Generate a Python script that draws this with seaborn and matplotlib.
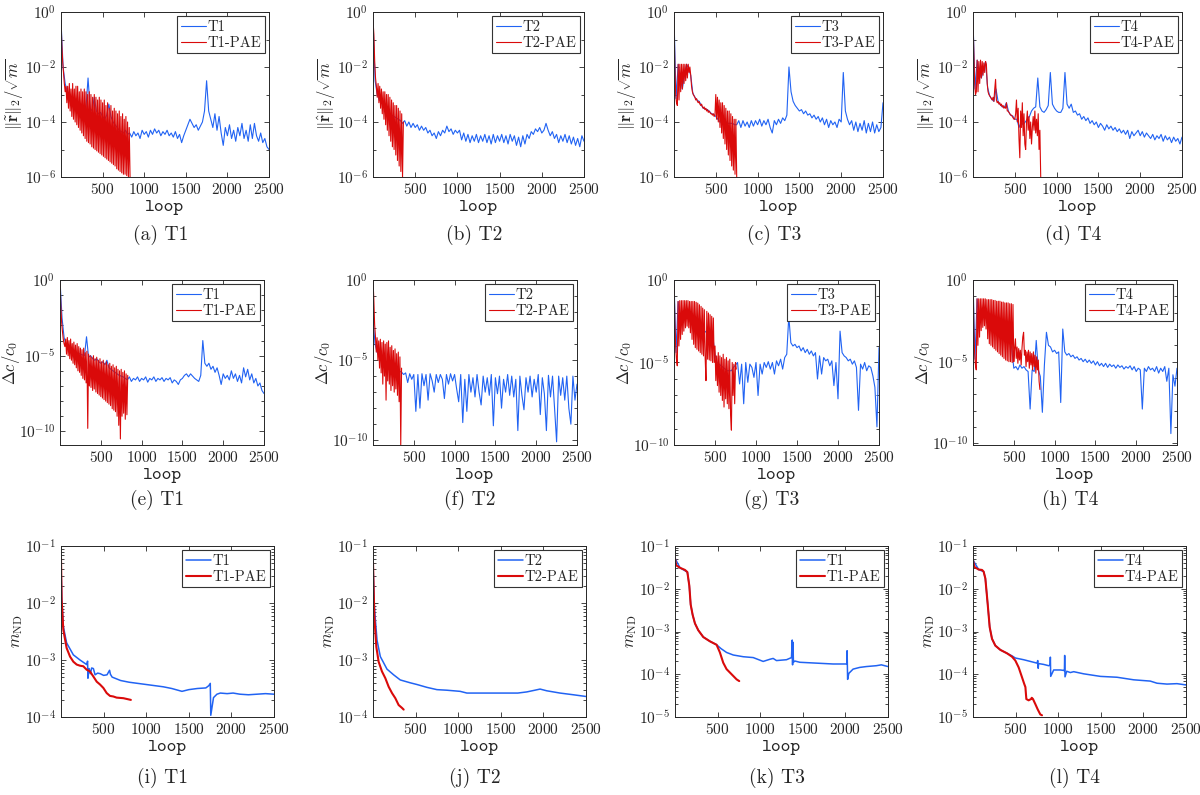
import numpy as np
import matplotlib
matplotlib.use("Agg")
import matplotlib.pyplot as plt
from matplotlib.ticker import FixedLocator, FuncFormatter, NullFormatter, LogLocator
import seaborn as sns

# ---------------------------------------------------------------
# Data (log10 of the plotted quantity).
# Rows 1-2: values at evenly spaced loops from 0 to the run's end.
# Row 3: explicit loop / value pairs.
# ---------------------------------------------------------------
LOOP_END = 2500

# (a) T1 residual
blue_a = [-0.3, -2.0, -2.6, -2.9, -3.0, -3.1, -3.2, -3.25, -3.3, -3.35,
          -3.4, -3.45, -3.5, -2.4, -3.5, -3.6, -3.1, -3.6, -3.7, -3.65,
          -3.8, -3.9, -3.75, -3.35, -3.8, -4.0, -4.1, -4.2, -4.3, -4.35,
          -4.4, -4.3, -4.45, -4.4, -4.55, -4.35, -4.5, -4.4, -4.6, -4.3,
          -4.45, -4.35, -4.55, -4.3, -4.45, -4.25, -4.4, -4.3, -4.5, -4.35,
          -4.45, -4.3, -4.5, -4.4, -4.55, -4.35, -4.6, -4.45, -4.75, -4.5,
          -4.3, -4.1, -3.9, -4.05, -4.2, -4.1, -4.3, -4.15, -4.0, -3.6,
          -2.5, -3.6, -3.9, -4.2, -3.7, -4.3, -3.8, -4.4, -4.85, -4.2,
          -4.5, -4.1, -4.6, -4.3, -4.7, -4.2, -4.5, -4.05, -4.6, -4.3,
          -4.7, -4.1, -4.6, -4.05, -4.5, -4.7, -4.4, -4.75, -4.6, -4.9,
          -5.0]
red_a_end = 830
red_a = [-0.3, -1.2, -1.8, -2.2, -2.6, -2.9, -2.7, -3.3, -2.7, -3.5,
         -2.6, -3.6, -2.8, -3.8, -2.6, -3.9, -2.8, -4.0, -2.7, -4.1,
         -2.7, -4.2, -2.9, -4.3, -2.8, -4.4, -2.9, -4.5, -2.8, -4.6,
         -2.9, -4.7, -3.0, -4.75, -2.9, -4.8, -3.0, -4.9, -3.1, -4.95,
         -3.0, -5.0, -3.1, -5.05, -3.2, -5.1, -3.1, -5.15, -3.2, -5.2,
         -3.3, -5.25, -3.2, -5.3, -3.4, -5.35, -3.3, -5.4, -3.5, -5.45,
         -3.4, -5.5, -3.6, -5.55, -3.5, -5.6, -3.6, -5.7, -3.7, -5.75,
         -3.6, -5.8, -3.8, -5.85, -3.7, -5.9, -3.9, -5.9, -3.8, -5.95,
         -4.0, -6.0, -4.2, -6.0]

# (b) T2 residual
blue_b = [-0.3, -2.5, -3.0, -3.2, -3.3, -3.4, -3.5, -3.6, -3.7, -3.75,
          -3.8, -3.85, -3.9, -3.95, -4.05, -3.95, -4.15, -4.0, -4.2, -4.05,
          -4.2, -4.1, -4.3, -4.15, -4.3, -4.2, -4.4, -4.3, -4.5, -4.4,
          -4.6, -4.35, -4.5, -4.3, -4.4, -4.15, -4.35, -4.25, -4.45, -4.3,
          -4.4, -4.3, -4.65, -4.4, -4.7, -4.45, -4.75, -4.5, -4.7, -4.45,
          -4.75, -4.5, -4.7, -4.45, -4.75, -4.5, -4.8, -4.45, -4.75, -4.5,
          -4.7, -4.45, -4.75, -4.5, -4.8, -4.45, -4.7, -4.5, -4.85, -4.55,
          -4.9, -4.5, -4.8, -4.45, -4.6, -4.35, -4.45, -4.25, -4.35, -4.2,
          -4.4, -4.3, -4.05, -4.3, -4.5, -4.35, -4.6, -4.45, -4.75, -4.5,
          -4.7, -4.45, -4.75, -4.5, -4.8, -4.55, -4.85, -4.6, -4.9, -4.5,
          -4.7]
red_b_end = 360
red_b = [-0.3, -0.8, -1.8, -2.4, -2.7, -3.1, -2.6, -3.3, -2.7, -3.5,
         -2.8, -3.7, -2.9, -3.9, -2.9, -4.1, -3.0, -4.3, -3.0, -4.5,
         -3.1, -4.7, -3.2, -4.9, -3.3, -5.0, -3.4, -5.2, -3.4, -5.4,
         -3.5, -5.6, -3.6, -5.8, -3.7, -6.0, -4.0]

# (c) T3 residual
blue_c = [-0.2, -3.15, -1.9, -2.4, -2.8, -2.3, -1.9, -2.05, -2.3, -2.95,
          -3.1, -3.2, -3.25, -3.38, -3.5, -3.52, -3.55, -3.62, -3.7, -3.72,
          -3.8, -3.9, -4.0, -4.0, -4.0, -4.0, -4.05, -4.05, -4.05, -4.1,
          -4.1, -3.95, -4.2, -3.95, -4.15, -4.0, -4.2, -3.95, -4.15, -3.95,
          -4.1, -3.9, -4.15, -3.95, -4.1, -3.9, -4.2, -4.4, -3.95, -4.1,
          -3.9, -4.05, -3.85, -3.95, -3.75, -2.0, -2.9, -3.25, -3.4, -3.5,
          -3.6, -3.55, -3.7, -3.6, -3.75, -3.7, -3.85, -3.75, -3.9, -3.8,
          -4.0, -3.85, -4.1, -3.9, -4.2, -3.95, -4.1, -4.0, -4.2, -3.9,
          -4.0, -2.2, -3.6, -3.9, -4.1, -3.95, -4.3, -4.0, -4.35, -4.05,
          -4.3, -3.95, -4.4, -4.05, -4.35, -4.0, -4.4, -4.1, -4.35, -4.2,
          -3.3]
red_c_end = 750
red_c = [-0.2, -2.0, -3.0, -3.3, -3.4, -1.9, -3.2, -1.9, -2.9, -1.9,
         -2.8, -1.9, -2.6, -1.9, -2.5, -1.9, -2.4, -1.9, -2.2, -2.0,
         -2.3, -2.7, -2.9, -3.0, -3.05, -3.1, -3.2, -3.15, -3.25, -3.3,
         -3.25, -3.35, -3.4, -3.35, -3.45, -3.5, -3.45, -3.55, -3.5, -3.6,
         -3.55, -3.65, -3.6, -3.65, -3.7, -3.7, -3.75, -3.7, -3.8, -3.75,
         -3.0, -3.9, -3.1, -4.0, -3.2, -4.2, -3.3, -4.4, -3.3, -4.6,
         -3.4, -4.8, -3.5, -5.0, -3.6, -5.2, -3.6, -5.4, -3.7, -5.6,
         -3.8, -5.75, -3.9, -5.9, -3.9, -6.0]

# (d) T4 residual
blue_d = [-0.3, -2.8, -1.75, -2.2, -2.4, -2.1, -1.8, -2.75, -3.05, -3.17,
          -3.25, -2.8, -3.25, -3.37, -3.45, -3.47, -3.3, -3.62, -3.75, -3.78,
          -3.9, -3.9, -4.2, -4.0, -4.1, -4.0, -3.9, -3.8, -3.6, -3.5,
          -3.45, -2.4, -3.45, -3.6, -3.65, -3.55, -3.4, -2.2, -3.35, -3.5,
          -3.6, -3.65, -3.65, -3.5, -2.2, -3.35, -3.5, -3.35, -3.65, -3.6,
          -3.75, -3.7, -3.9, -3.8, -3.95, -3.85, -4.05, -3.95, -4.1, -4.0,
          -4.2, -4.05, -4.15, -4.3, -4.1, -4.25, -4.15, -4.3, -4.2, -4.35,
          -4.25, -4.4, -4.3, -4.45, -4.3, -4.6, -4.35, -4.5, -4.4, -4.3,
          -4.5, -4.35, -4.55, -4.4, -4.5, -4.6, -4.45, -4.65, -4.5, -4.6,
          -4.45, -4.7, -4.5, -4.65, -4.55, -4.75, -4.55, -4.7, -4.6, -4.8,
          -4.55]
red_d_end = 810
red_d = [-0.3, -1.5, -2.6, -3.0, -2.9, -1.75, -2.9, -1.8, -2.6, -1.75,
         -2.4, -1.8, -2.3, -1.85, -2.2, -1.8, -1.9, -2.6, -2.9, -3.0,
         -3.05, -3.1, -3.15, -3.2, -3.1, -3.25, -2.8, -2.45, -3.2, -3.3,
         -3.25, -3.35, -3.3, -3.4, -3.35, -3.45, -3.4, -3.5, -3.45, -3.5,
         -3.3, -3.6, -3.6, -3.65, -3.7, -3.75, -3.75, -3.8, -3.85, -3.9,
         -3.9, -3.7, -3.2, -4.0, -3.5, -4.6, -5.3, -3.6, -4.2, -3.3,
         -4.5, -3.7, -4.8, -5.0, -4.0, -3.6, -4.3, -3.8, -4.6, -4.0,
         -4.8, -4.2, -3.8, -4.3, -3.6, -4.4, -3.9, -4.5, -3.7, -5.0,
         -4.3, -6.0]

# (e) T1 cost change
blue_e = [0.0, -2.5, -3.8, -4.3, -4.5, -4.6, -4.7, -4.75, -4.8, -4.85,
          -4.9, -4.95, -5.0, -3.75, -5.1, -5.0, -5.2, -5.3, -5.2, -5.4,
          -5.5, -5.4, -5.6, -5.3, -5.8, -5.9, -6.0, -6.1, -6.2, -6.3,
          -6.35, -6.4, -6.5, -6.6, -6.4, -6.7, -6.5, -6.6, -6.4, -6.7,
          -6.5, -6.6, -6.4, -6.75, -6.5, -6.6, -6.4, -6.7, -6.5, -6.6,
          -6.45, -6.7, -6.5, -6.6, -6.45, -6.8, -6.6, -6.7, -6.9, -6.6,
          -6.5, -6.3, -6.2, -6.4, -6.2, -6.35, -6.5, -6.6, -6.7, -6.3,
          -4.0, -5.5, -5.7, -5.5, -5.9, -5.7, -6.1, -5.8, -6.3, -6.9,
          -6.2, -6.5, -6.3, -6.6, -6.0, -6.5, -6.2, -6.7, -6.3, -6.8,
          -5.8, -6.4, -5.9, -6.6, -6.2, -6.8, -6.5, -7.0, -6.8, -7.3,
          -7.5]
red_e_end = 830
red_e = [0.0, -1.7, -2.8, -3.4, -3.9, -4.2, -4.4, -3.9, -4.9, -3.8,
         -5.0, -4.0, -5.2, -3.9, -5.3, -4.2, -5.5, -4.1, -5.6, -4.3,
         -5.8, -4.2, -6.0, -4.4, -6.1, -4.5, -6.3, -4.6, -6.5, -4.5,
         -6.6, -4.8, -6.8, -4.7, -9.8, -4.9, -7.0, -5.0, -7.1, -5.1,
         -7.3, -5.0, -7.2, -5.2, -7.4, -5.1, -7.5, -5.3, -7.6, -5.2,
         -7.7, -5.4, -7.8, -5.3, -7.9, -5.5, -8.0, -5.4, -8.1, -5.6,
         -8.2, -5.5, -8.3, -5.7, -8.5, -5.6, -8.6, -5.8, -8.7, -5.7,
         -9.0, -5.9, -9.6, -6.0, -10.5, -5.9, -9.0, -6.1, -8.8, -6.0,
         -9.2, -6.2, -8.9, -6.3]

# (f) T2 cost change
blue_f = [-2.4, -4.0, -4.5, -4.8, -5.0, -5.1, -5.2, -5.3, -5.35, -5.4,
          -5.5, -5.55, -5.6, -5.7, -5.75, -5.9, -5.8, -6.4, -5.85, -6.2,
          -5.9, -8.2, -5.9, -8.0, -5.85, -6.6, -5.9, -7.5, -5.85, -6.3,
          -7.0, -5.9, -6.4, -5.9, -6.2, -7.4, -5.9, -6.5, -5.85, -6.3,
          -5.9, -6.8, -7.6, -5.9, -8.9, -6.2, -8.2, -5.9, -7.0, -6.1,
          -7.3, -5.9, -7.0, -7.8, -6.0, -7.0, -6.1, -7.2, -5.9, -9.1,
          -6.1, -7.1, -6.0, -8.0, -6.2, -7.0, -5.9, -7.2, -6.0, -7.3,
          -6.2, -9.4, -6.0, -7.2, -8.1, -6.1, -7.0, -6.0, -7.3, -6.2,
          -7.0, -5.9, -8.4, -6.1, -7.1, -9.4, -5.95, -7.3, -6.0, -8.0,
          -10.1, -6.0, -7.2, -6.1, -7.5, -6.0, -8.0, -9.0, -6.0, -7.5,
          -6.5]
red_f_end = 350
red_f = [0.0, -1.2, -2.8, -3.5, -4.5, -3.6, -5.0, -3.8, -5.5, -3.7,
         -5.8, -3.9, -6.5, -3.8, -6.0, -4.0, -7.5, -3.9, -6.3, -3.8,
         -6.5, -4.2, -6.9, -4.1, -6.6, -4.4, -7.0, -4.3, -6.8, -4.6,
         -7.2, -4.5, -7.6, -4.8, -10.3, -5.5]

# (g) T3 cost change
blue_g = [0.0, -4.4, -1.3, -2.4, -2.4, -2.3, -2.2, -2.2, -2.4, -2.5,
          -2.6, -2.7, -2.8, -2.9, -3.0, -3.1, -3.2, -3.3, -3.4, -3.5,
          -4.5, -5.0, -5.1, -5.2, -5.3, -5.4, -5.5, -5.5, -5.5, -5.3,
          -5.15, -5.0, -6.3, -5.1, -7.5, -5.0, -6.2, -5.1, -5.3, -5.9,
          -5.0, -7.0, -5.1, -5.7, -5.0, -5.3, -4.95, -5.4, -5.0, -5.7,
          -4.9, -5.2, -4.8, -5.4, -4.7, -4.5, -2.2, -3.8, -4.0, -3.9,
          -4.1, -4.0, -4.3, -4.1, -4.4, -4.2, -4.5, -4.3, -4.6, -4.4,
          -6.0, -4.6, -5.7, -4.7, -4.9, -4.8, -5.2, -4.9, -6.4, -5.0,
          -7.2, -3.1, -4.4, -4.6, -4.7, -4.9, -4.8, -5.1, -4.9, -5.3,
          -7.9, -5.1, -5.4, -5.0, -5.5, -5.2, -5.3, -5.8, -6.5, -8.9,
          -4.1]
red_g_end = 760
red_g = [0.0, -2.5, -4.0, -4.8, -5.2, -1.3, -4.0, -1.25, -3.6, -1.25,
         -3.3, -1.25, -3.1, -1.25, -2.9, -1.25, -2.8, -1.25, -2.9, -1.3,
         -3.2, -1.3, -3.6, -1.3, -3.9, -1.3, -4.1, -1.35, -4.2, -1.4,
         -4.3, -1.5, -4.4, -1.6, -4.5, -1.7, -4.6, -1.8, -4.7, -6.1,
         -1.9, -4.8, -2.0, -4.85, -2.1, -4.9, -2.2, -5.0, -2.3, -5.0,
         -4.0, -6.1, -4.6, -6.4, -4.4, -6.8, -4.6, -7.0, -4.7, -7.3,
         -4.5, -7.7, -4.8, -7.2, -4.7, -7.5, -4.9, -7.8, -4.8, -8.2,
         -9.1, -5.0, -7.0, -5.1, -7.5, -5.0, -5.4]

# (h) T4 cost change
blue_h = [0.0, -4.85, -1.15, -2.3, -2.2, -2.1, -2.1, -2.3, -2.5, -2.6,
          -2.7, -2.8, -2.9, -3.0, -3.1, -3.2, -3.3, -3.4, -3.6, -4.2,
          -5.4, -5.3, -5.5, -5.2, -5.4, -5.3, -5.5, -5.6, -7.9, -5.5,
          -5.6, -3.7, -5.5, -5.9, -8.1, -5.2, -3.2, -4.0, -4.1, -4.4,
          -4.3, -4.5, -4.4, -7.5, -3.0, -4.4, -4.6, -4.5, -4.7, -4.6,
          -4.8, -4.7, -4.9, -4.8, -5.0, -4.85, -5.05, -4.9, -5.1, -4.95,
          -5.2, -5.0, -5.25, -5.1, -5.3, -5.1, -5.35, -5.15, -5.3, -5.2,
          -5.4, -5.2, -5.35, -5.25, -5.45, -5.3, -5.4, -5.25, -5.5, -5.3,
          -5.6, -5.4, -5.5, -7.9, -5.4, -5.6, -5.3, -5.5, -5.4, -5.6,
          -5.3, -5.7, -5.4, -5.6, -5.3, -6.2, -5.4, -9.4, -5.8, -6.5,
          -5.4]
red_h_end = 820
red_h = [0.0, -3.0, -4.5, -5.2, -5.5, -1.15, -4.0, -1.15, -3.5, -1.15,
         -3.1, -1.15, -2.9, -1.15, -2.8, -1.15, -3.0, -1.2, -3.6, -1.2,
         -3.9, -1.2, -4.0, -1.2, -4.1, -1.25, -4.2, -1.25, -4.3, -1.3,
         -4.4, -1.3, -4.5, -1.3, -4.6, -1.35, -4.7, -1.35, -4.8, -1.4,
         -4.9, -1.4, -4.95, -1.4, -5.0, -1.45, -5.0, -1.45, -5.05, -1.5,
         -5.0, -4.2, -3.6, -4.8, -4.1, -5.1, -4.2, -4.9, -4.3, -5.2,
         -4.2, -3.5, -3.2, -4.6, -4.3, -5.3, -4.4, -5.0, -4.3, -5.4,
         -4.4, -5.2, -4.5, -5.5, -4.4, -5.3, -4.6, -5.7, -4.7, -5.5,
         -4.9, -6.2, -6.7]

# (i) T1 m_ND
blue_i_loop = [0, 8, 27, 66, 145, 223, 301, 312, 316, 330,
               345, 360, 380, 400, 430, 460, 500, 540, 570, 580,
               600, 650, 700, 800, 900, 1000, 1100, 1200, 1300, 1420,
               1500, 1600, 1700, 1735, 1752, 1758, 1790, 1830, 1870, 1950,
               2020, 2100, 2200, 2300, 2400, 2500]
blue_i = [-1.27, -1.89, -2.41, -2.7, -2.91, -3.0, -3.08, -3.02, -3.32, -3.15,
          -3.24, -3.14, -3.15, -3.26, -3.23, -3.24, -3.27, -3.26, -3.18, -3.25,
          -3.3, -3.33, -3.36, -3.39, -3.41, -3.43, -3.45, -3.47, -3.5, -3.55,
          -3.52, -3.5, -3.49, -3.45, -3.41, -3.97, -3.66, -3.6, -3.58, -3.59,
          -3.58, -3.6, -3.61, -3.6, -3.59, -3.6]
red_i_loop = [0, 8, 27, 66, 106, 145, 184, 223, 262, 301,
              340, 380, 419, 458, 497, 536, 575, 614, 653, 732, 820]
red_i = [-1.22, -1.95, -2.47, -2.79, -2.94, -3.03, -3.08, -3.1, -3.11, -3.17,
         -3.2, -3.29, -3.38, -3.43, -3.49, -3.58, -3.63, -3.64, -3.66, -3.67, -3.7]

# (j) T2 m_ND
blue_j_loop = [0, 16, 47, 86, 164, 242, 320, 437, 516, 633,
               750, 867, 1023, 1102, 1300, 1500, 1700, 1805, 1900, 1961,
               2039, 2195, 2352, 2500]
blue_j = [-1.29, -2.07, -2.65, -2.94, -3.16, -3.26, -3.35, -3.4, -3.43, -3.48,
          -3.52, -3.53, -3.55, -3.58, -3.58, -3.58, -3.58, -3.56, -3.53, -3.51,
          -3.54, -3.58, -3.61, -3.64]
red_j_loop = [0, 16, 39, 66, 105, 145, 184, 223, 262, 301, 340, 360]
red_j = [-1.29, -2.25, -2.77, -3.03, -3.2, -3.32, -3.47, -3.58, -3.67, -3.79, -3.84, -3.87]

# (k) T3 m_ND
blue_k_loop = [0, 59, 145, 168, 184, 207, 234, 273, 332, 410,
               488, 540, 605, 684, 801, 918, 1035, 1113, 1152, 1191,
               1309, 1367, 1376, 1380, 1384, 1390, 1406, 1465, 1660, 1855,
               1992, 2016, 2020, 2026, 2040, 2090, 2168, 2246, 2363, 2422,
               2500]
blue_k = [-1.29, -1.51, -1.61, -1.93, -2.37, -2.61, -2.81, -2.97, -3.13, -3.23,
          -3.31, -3.4, -3.49, -3.55, -3.59, -3.61, -3.7, -3.65, -3.63, -3.68,
          -3.66, -3.61, -3.2, -3.78, -3.25, -3.72, -3.69, -3.72, -3.74, -3.76,
          -3.76, -3.76, -3.45, -4.12, -3.98, -3.88, -3.84, -3.82, -3.8, -3.78,
          -3.82]
red_k_loop = [0, 12, 59, 117, 145, 168, 184, 207, 234, 273,
              332, 410, 488, 527, 566, 605, 664, 723, 754]
red_k = [-1.29, -1.45, -1.51, -1.56, -1.61, -1.93, -2.37, -2.61, -2.81, -2.97,
         -3.13, -3.23, -3.31, -3.49, -3.73, -3.88, -4.0, -4.12, -4.16]

# (l) T4 m_ND
blue_l_loop = [0, 66, 125, 145, 172, 196, 223, 262, 321, 399,
               458, 497, 594, 673, 751, 760, 765, 770, 829, 888,
               905, 908, 912, 947, 1025, 1064, 1073, 1076, 1080, 1100,
               1143, 1182, 1299, 1495, 1690, 1886, 2081, 2160, 2277, 2394,
               2500]
blue_l = [-1.33, -1.55, -1.6, -1.76, -2.35, -2.9, -3.17, -3.33, -3.43, -3.51,
          -3.57, -3.62, -3.66, -3.7, -3.74, -3.68, -3.86, -3.75, -3.77, -3.8,
          -3.79, -3.6, -4.05, -3.9, -3.9, -3.91, -3.92, -3.56, -4.06, -3.93,
          -3.96, -3.94, -3.99, -4.05, -4.07, -4.13, -4.16, -4.21, -4.23, -4.22,
          -4.25]
red_l_loop = [0, 16, 66, 106, 125, 145, 172, 196, 223, 262,
              321, 399, 458, 497, 536, 575, 602, 615, 626, 653,
              681, 690, 704, 732, 759, 790, 810]
red_l = [-1.33, -1.49, -1.55, -1.56, -1.6, -1.76, -2.35, -2.9, -3.17, -3.33,
         -3.43, -3.51, -3.59, -3.68, -3.84, -4.07, -4.23, -4.3, -4.58, -4.61,
         -4.58, -4.55, -4.58, -4.7, -4.82, -4.94, -4.96]

# labels
captions = ["(a) T1", "(b) T2", "(c) T3", "(d) T4",
            "(e) T1", "(f) T2", "(g) T3", "(h) T4",
            "(i) T1", "(j) T2", "(k) T3", "(l) T4"]
legend_names = ["T1", "T2", "T3", "T4",
                "T1", "T2", "T3", "T4",
                "T1", "T2", "T1", "T4"]
ylabels = [r"$\Vert\tilde{\mathbf{r}}\Vert_2/\sqrt{m}$",
           r"$\Vert\hat{\mathbf{r}}\Vert_2/\sqrt{m}$",
           r"$\Vert\mathbf{r}\Vert_2/\sqrt{m}$",
           r"$\Vert\mathbf{r}\Vert_2/\sqrt{m}$"] \
    + [r"$\Delta c/c_0$"] * 4 + [r"$m_{\mathrm{ND}}$"] * 4
x_ticks = [500, 1000, 1500, 2000, 2500]

# ---------------------------------------------------------------
BLUE = "#2163f3"
RED = "#da0a0a"


def even(vals, end):
    return np.linspace(0, end, len(vals)), 10.0 ** np.array(vals)


def given(loops, vals):
    return np.array(loops, float), 10.0 ** np.array(vals)


series = [
    (even(blue_a, LOOP_END), even(red_a, red_a_end)),
    (even(blue_b, LOOP_END), even(red_b, red_b_end)),
    (even(blue_c, LOOP_END), even(red_c, red_c_end)),
    (even(blue_d, LOOP_END), even(red_d, red_d_end)),
    (even(blue_e, LOOP_END), even(red_e, red_e_end)),
    (even(blue_f, LOOP_END), even(red_f, red_f_end)),
    (even(blue_g, LOOP_END), even(red_g, red_g_end)),
    (even(blue_h, LOOP_END), even(red_h, red_h_end)),
    (given(blue_i_loop, blue_i), given(red_i_loop, red_i)),
    (given(blue_j_loop, blue_j), given(red_j_loop, red_j)),
    (given(blue_k_loop, blue_k), given(red_k_loop, red_k)),
    (given(blue_l_loop, blue_l), given(red_l_loop, red_l)),
]

# y ranges (log10) and major tick exponents per panel
ylims = [(-6, 0)] * 4 + [(-10.9, 0), (-10.3, 0), (-10, 0), (-10.1, 0)] \
    + [(-4, -1), (-4, -1), (-5, -1), (-5, -1)]
yticks = [[-6, -4, -2, 0]] * 4 + [[-10, -5, 0]] * 4 \
    + [[-4, -3, -2, -1]] * 2 + [[-5, -4, -3, -2, -1]] * 2

# axes boxes in pixels: (left, right) per column, (top, bottom) per row
W, H = 1200, 795
row_tb = [(12, 177), (280, 445), (546, 717)]
col_lr = [[(61, 269), (373, 584), (674, 883), (973, 1182)],
          [(60, 264), (373, 577), (674, 879), (973, 1177)],
          [(61, 274), (373, 586), (675, 888), (973, 1186)]]
caption_y = [235, 500, 778]
ylabel_off = [36, 38, 36]   # px from axes left edge to y-label's right side

sns.set_style("ticks")
plt.rcParams["mathtext.fontset"] = "cm"
plt.rcParams["font.family"] = ["cmr10", "DejaVu Serif"]
plt.rcParams["axes.edgecolor"] = "#262626"
plt.rcParams["axes.linewidth"] = 0.7

fig = plt.figure(figsize=(W / 100, H / 100), dpi=100)

for k in range(12):
    r, c = divmod(k, 4)
    (l, rt), (t, b) = col_lr[r][c], row_tb[r]
    ax = fig.add_axes([l / W, 1 - b / H, (rt - l) / W, (b - t) / H])
    (bx, by), (rx, ry) = series[k]
    lw_b, lw_r = (1.1, 1.5) if r == 2 else (0.8, 0.8)
    name = legend_names[k]
    sns.lineplot(x=bx, y=by, ax=ax, color=BLUE, lw=lw_b, label=name,
                 estimator=None, sort=False)
    sns.lineplot(x=rx, y=ry, ax=ax, color=RED, lw=lw_r, label=name + "-PAE",
                 estimator=None, sort=False)
    ax.set_yscale("log")
    ax.set_xlim(0, LOOP_END)
    ax.set_ylim(10.0 ** ylims[k][0], 10.0 ** ylims[k][1])

    ax.yaxis.set_major_locator(FixedLocator(10.0 ** np.array(yticks[k])))
    ax.yaxis.set_major_formatter(
        FuncFormatter(lambda v, pos: r"$10^{%d}$" % round(np.log10(v))))
    if r < 2:
        lo = int(np.floor(ylims[k][0]))
        ax.yaxis.set_minor_locator(FixedLocator(10.0 ** np.arange(lo, 1)))
    else:
        ax.yaxis.set_minor_locator(LogLocator(base=10, subs=np.arange(2, 10)))
    ax.yaxis.set_minor_formatter(NullFormatter())
    ax.xaxis.set_major_locator(FixedLocator(x_ticks))
    ax.xaxis.set_major_formatter(FuncFormatter(lambda v, pos: r"$%d$" % v))

    ax.tick_params(which="both", direction="in", top=True, right=True,
                   labelsize=11, colors="#262626", width=0.6)
    ax.tick_params(which="major", length=3.5)
    ax.tick_params(which="minor", length=2)
    for s in ax.spines.values():
        s.set_visible(True)

    ax.set_xlabel("loop", fontfamily="cmtt10", fontsize=13.5, labelpad=2)
    ax.set_ylabel(ylabels[k], fontsize=12)
    ax.yaxis.set_label_coords(-ylabel_off[r] / (rt - l), 0.5)

    leg = ax.legend(loc="upper right", fontsize=10.5, frameon=True,
                    fancybox=False, framealpha=1, edgecolor="#333333",
                    borderpad=0.25, labelspacing=0.15, handlelength=1.7,
                    handletextpad=0.1, borderaxespad=0.3)
    leg.get_frame().set_linewidth(0.8)

    fig.text((l + rt) / 2 / W - 0.004, 1 - caption_y[r] / H, captions[k],
             ha="center", va="center", fontsize=14, fontfamily="cmr10")

fig.savefig("out.png", dpi=100)
